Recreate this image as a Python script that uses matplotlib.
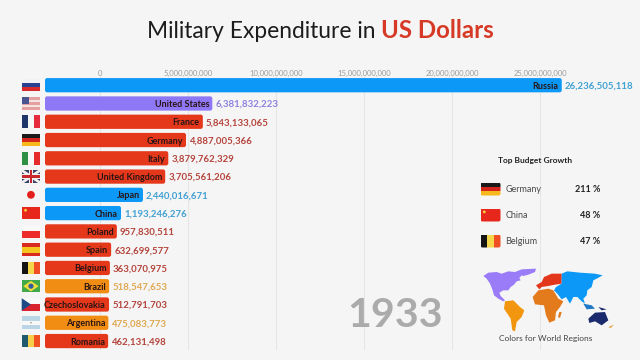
import matplotlib
matplotlib.use("Agg")
import matplotlib.pyplot as plt
from matplotlib.patches import FancyBboxPatch, Rectangle, Polygon, Circle

countries = ["Russia", "United States", "France", "Germany", "Italy", "United Kingdom", "Japan", "China",
             "Poland", "Spain", "Belgium", "Brazil", "Czechoslovakia", "Argentina", "Romania"]
values = [26236505118, 6381832223, 5843133065, 4887005366, 3879762329, 3705561206, 2440016671, 1193246276,
          957830511, 632699577, 563070975, 518547653, 512791703, 475083773, 462131498]
value_labels = ["26,236,505,118", "6,381,832,223", "5,843,133,065", "4,887,005,366", "3,879,762,329",
                "3,705,561,206", "2,440,016,671", "1,193,246,276", "957,830,511", "632,699,577",
                "363,070,975", "518,547,653", "512,791,703", "475,083,773", "462,131,498"]
regions = ["asia", "america", "europe", "europe", "europe", "europe", "asia", "asia",
           "europe", "europe", "europe", "south", "europe", "south", "europe"]
ticks = [0, 5e9, 10e9, 15e9, 20e9, 25e9]
tick_labels = ["0", "5,000,000,000", "10,000,000,000", "15,000,000,000", "20,000,000,000", "25,000,000,000"]
growth_names = ["Germany", "China", "Belgium"]
growth_pcts = ["211 %", "48 %", "47 %"]
year = "1933"

bar_colors = {"asia": "#0b98f6", "america": "#8f78f6", "europe": "#e5381b", "south": "#f28d13"}
text_colors = {"asia": "#41a0d2", "america": "#8c82de", "europe": "#b4443c", "south": "#dfa951"}
BG = "#f5f5f5"
FONT = "Lato"

fig = plt.figure(figsize=(6.4, 3.6), dpi=100, facecolor=BG)

# Main axes: spans the full width; 0 sits at 100 px and 1e9 is 17.6 px
PX_PER_UNIT = 17.6e-9
ax = fig.add_axes([0, (360 - 350) / 360, 1, (350 - 76) / 360], facecolor="none")
ax.set_xlim(-100 / PX_PER_UNIT, 540 / PX_PER_UNIT)
ax.set_ylim(14.49, -0.504)
for s in ax.spines.values():
    s.set_visible(False)
ax.set_yticks([])
ax.set_xticks(ticks)
ax.set_xticklabels(tick_labels, fontsize=5.5, color="#9c9c9c", family=FONT)
ax.xaxis.tick_top()
ax.tick_params(axis="x", length=0, pad=-1)
ax.grid(axis="x", color="#e6e6e6", linewidth=0.8, zorder=0)
ax.set_axisbelow(True)

bar_left = -55 / PX_PER_UNIT
rows = list(range(len(values)))
bars = ax.barh(rows, [v - bar_left for v in values], left=bar_left, height=0.78, zorder=2,
               color=[bar_colors[r] for r in regions])
row_h = 18.27
for rect, reg in zip(bars, regions):
    rect.set_visible(False)
    rounded = FancyBboxPatch((rect.get_x(), rect.get_y()), rect.get_width(), rect.get_height(),
                             boxstyle=f"round,pad=0,rounding_size={2.2 / PX_PER_UNIT}",
                             mutation_aspect=PX_PER_UNIT / row_h,
                             facecolor=bar_colors[reg], edgecolor="none", zorder=2)
    ax.add_patch(rounded)

for i, (name, v, lab, reg) in enumerate(zip(countries, values, value_labels, regions)):
    ax.annotate(name, (v, i), xytext=(-2.3, 0), textcoords="offset points", ha="right", va="center_baseline",
                fontsize=6.5, fontweight="bold", color="#2a1414", family=FONT, zorder=3)
    ax.annotate(lab, (v, i), xytext=(2.2, 0), textcoords="offset points", ha="left", va="center_baseline",
                fontsize=6.9, fontweight="bold", color=text_colors[reg], family=FONT, zorder=3)

# Overlay in pixel coordinates for title, flags, panel and map
ov = fig.add_axes([0, 0, 1, 1], facecolor="none")
ov.set_xlim(0, 640)
ov.set_ylim(360, 0)
ov.axis("off")

ov.text(147, 31, "Military Expenditure in", fontsize=16.4, color="#1c1c1c", family=FONT, va="center", ha="left")
ov.text(381, 31, "US Dollars", fontsize=17.3, fontweight="bold", color="#d63a26", family=FONT, va="center", ha="left")


def hstripes(x, y, w, h, cols):
    n = len(cols)
    for k, c in enumerate(cols):
        ov.add_patch(Rectangle((x, y + k * h / n), w, h / n, fc=c, ec="none"))


def vstripes(x, y, w, h, cols):
    n = len(cols)
    for k, c in enumerate(cols):
        ov.add_patch(Rectangle((x + k * w / n, y), w / n, h, fc=c, ec="none"))


def draw_flag(name, x, cy, w=18.5, h=12.5):
    y = cy - h / 2
    if name == "Russia":
        hstripes(x, y, w, h, ["#f2f2f4", "#27408f", "#d8282c"])
    elif name == "United States":
        hstripes(x, y, w, h, ["#e6a0a0", "#f3e4e4", "#e6a0a0", "#f3e4e4", "#e6a0a0"])
        ov.add_patch(Rectangle((x, y), w * 0.42, h * 0.55, fc="#4a5490", ec="none"))
    elif name == "France":
        vstripes(x, y, w, h, ["#1f3468", "#f7f7f7", "#e62b3c"])
    elif name == "Germany":
        hstripes(x, y, w, h, ["#1a1a1a", "#d4261c", "#f6b81a"])
    elif name == "Italy":
        vstripes(x, y, w, h, ["#2f8f45", "#f7f7f7", "#e62b2c"])
    elif name == "United Kingdom":
        ov.add_patch(Rectangle((x, y), w, h, fc="#3b3f66", ec="none"))
        ov.plot([x, x + w], [y, y + h], color="#f0f0f0", lw=2, solid_capstyle="butt")
        ov.plot([x, x + w], [y + h, y], color="#f0f0f0", lw=2, solid_capstyle="butt")
        ov.add_patch(Rectangle((x, cy - 2.2), w, 4.4, fc="#f0f0f0", ec="none", zorder=2.5))
        ov.add_patch(Rectangle((x + w / 2 - 2.2, y), 4.4, h, fc="#f0f0f0", ec="none", zorder=2.5))
        ov.add_patch(Rectangle((x, cy - 1.2), w, 2.4, fc="#c8282c", ec="none", zorder=2.6))
        ov.add_patch(Rectangle((x + w / 2 - 1.2, y), 2.4, h, fc="#c8282c", ec="none", zorder=2.6))
    elif name == "Japan":
        ov.add_patch(Circle((x + w / 2, cy), 3.9, fc="#e2211c", ec="none"))
    elif name == "China":
        ov.add_patch(Rectangle((x, y), w, h, fc="#e7271c", ec="none"))
        ov.add_patch(Circle((x + 3.8, y + 3.4), 1.4, fc="#f5d33a", ec="none"))
    elif name == "Poland":
        hstripes(x, y, w, h, ["#f8f8f8", "#ee2b2b"])
    elif name == "Spain":
        hstripes(x, y, w, h, ["#d92a1e", "#f6c51d", "#f6c51d", "#d92a1e"])
    elif name == "Belgium":
        vstripes(x, y, w, h, ["#141414", "#f6d64a", "#ef4f22"])
    elif name == "Brazil":
        ov.add_patch(Rectangle((x, y), w, h, fc="#41a948", ec="none"))
        ov.add_patch(Polygon([(x + 1.5, cy), (x + w / 2, y + 1), (x + w - 1.5, cy), (x + w / 2, y + h - 1)],
                             fc="#f2dc3c", ec="none"))
        ov.add_patch(Circle((x + w / 2, cy), 2.6, fc="#2f5f9e", ec="none"))
    elif name == "Czechoslovakia":
        hstripes(x, y, w, h, ["#f8f8f8", "#d8232e"])
        ov.add_patch(Polygon([(x, y), (x + w * 0.5, cy), (x, y + h)], fc="#1d4a86", ec="none"))
    elif name == "Argentina":
        hstripes(x, y, w, h, ["#b9d5e6", "#f8f8f8", "#b9d5e6"])
        ov.add_patch(Circle((x + w / 2, cy), 0.8, fc="#9a9a7a", ec="none"))
    elif name == "Romania":
        vstripes(x, y, w, h, ["#1f5a6e", "#f6d04a", "#f0531f"])


for i, name in enumerate(countries):
    draw_flag(name, 21.7, 85.2 + row_h * i)

# Top budget growth panel
ov.text(535, 160.5, "Top Budget Growth", fontsize=6.0, fontweight="bold", color="#222222", family=FONT,
        ha="center", va="center")
for name, pct, cy in zip(growth_names, growth_pcts, [189, 215, 241]):
    x, w, h = 480.5, 20, 13
    clip = FancyBboxPatch((x, cy - h / 2), w, h, boxstyle="round,pad=0,rounding_size=2", fc="none", ec="none")
    ov.add_patch(clip)
    before = len(ov.patches)
    draw_flag(name, x, cy, w, h)
    for p in ov.patches[before:]:
        p.set_clip_path(clip)
    ov.text(505.5, cy, name, fontsize=6.5, color="#4a4a4a", family=FONT, ha="left", va="center")
    ov.text(600, cy, pct, fontsize=6.5, fontweight="bold", color="#222222", family=FONT, ha="right", va="center")

ov.text(395, 315.5, year, fontsize=29.5, fontweight="bold", color="#ababab", family=FONT, ha="center", va="center")


# World map legend (outline points in zoomed-crop pixels: 3x, origin 480,262)
def region(points, color):
    ov.add_patch(Polygon([(480 + px / 3, 262 + py / 3) for px, py in points], fc=color, ec="none"))


region([(10, 42), (25, 32), (50, 30), (65, 35), (85, 28), (105, 30), (125, 22), (168, 20), (165, 30), (145, 38),
        (130, 42), (125, 40), (118, 48), (122, 55), (110, 58), (102, 68), (92, 75), (85, 85), (70, 85), (58, 92),
        (62, 102), (75, 115), (70, 118), (55, 110), (42, 100), (38, 85), (30, 65), (20, 50)], "#9a7cf8")
region([(75, 118), (100, 115), (120, 135), (133, 145), (125, 165), (110, 180), (105, 208), (97, 205), (92, 170),
        (72, 140)], "#f2960f")
region([(158, 105), (175, 85), (205, 80), (220, 85), (235, 110), (250, 118), (240, 135), (228, 150), (225, 175),
        (208, 182), (198, 160), (192, 130), (165, 127)], "#e37a1c")
region([(238, 150), (245, 150), (240, 168), (234, 165)], "#e37a1c")
region([(168, 70), (185, 60), (192, 45), (215, 35), (245, 35), (245, 65), (225, 68), (205, 72), (185, 75),
        (178, 82)], "#e2371a")
region([(245, 35), (262, 28), (300, 32), (345, 35), (368, 40), (350, 50), (340, 55), (335, 75), (322, 85),
        (320, 100), (310, 110), (315, 125), (305, 118), (292, 105), (280, 105), (270, 125), (258, 105), (245, 112),
        (232, 95), (222, 85), (228, 75), (245, 65)], "#0b98f6")
region([(310, 125), (335, 130), (345, 140), (320, 142)], "#1f78c8")
region([(355, 135), (380, 142), (365, 145)], "#1a2a6c")
region([(325, 170), (345, 152), (375, 150), (385, 175), (365, 190), (345, 178), (328, 183)], "#1a2a6c")
region([(385, 195), (402, 188), (392, 198)], "#e3a040")

ov.text(546, 339, "Colors for World Regions", fontsize=6.0, color="#444444", family=FONT, ha="center", va="center")

fig.savefig("out.png", dpi=100, facecolor=BG)
